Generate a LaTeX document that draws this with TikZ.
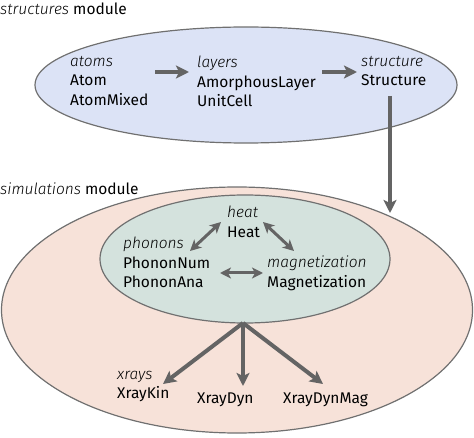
\documentclass[tikz,border=0pt]{standalone}
\usepackage{fontspec}
\setmainfont{Fira Sans}
\newfontfamily\pkgfont{Fira Sans Light Italic}
\newcommand{\pkg}[1]{{\pkgfont #1}}
\usepackage{xcolor}
\usetikzlibrary{arrows.meta, shapes, positioning, calc}

\definecolor{structblue}{HTML}{DCE3F6}
\definecolor{simpeach}{HTML}{F7E2D9}
\definecolor{coregreen}{HTML}{D4E2DD}
\definecolor{rimgray}{HTML}{707070}
\definecolor{arrowgray}{HTML}{646464}

\begin{document}
\begin{tikzpicture}[
        x=1pt, y=-1pt,
        module/.style={ellipse, draw=rimgray, line width=1.2pt, inner sep=0pt},
        group/.style={anchor=north west, inner sep=0pt, align=left, font={\fontsize{15.5}{19.5}\selectfont}},
        title/.style={anchor=base west, inner sep=0pt, font={\fontsize{15.5}{19.5}\selectfont}},
        flow/.style={arrowgray, line width=4pt, -{Stealth[length=13pt, width=13pt, inset=3pt]}},
        link/.style={arrowgray, line width=3pt, {Stealth[length=11pt, width=11pt, inset=3pt]}-{Stealth[length=11pt, width=11pt, inset=3pt]}}
    ]
        \useasboundingbox (0,0) rectangle (474,438);

        % Modules
        \node (structmod) [module, fill=structblue, minimum width=422pt, minimum height=116pt] at (246,85) {};
        \node (simmod) [module, fill=simpeach, minimum width=471pt, minimum height=246pt] at (237,310) {};
        \node (coremod) [module, fill=coregreen, minimum width=290pt, minimum height=128pt] at (245,259) {};

        \node (structtitle) [title] at (0,15) {\pkg{structures} module};
        \node (simtitle) [title] at (0,195) {\pkg{simulations} module};

        % structures module
        \node (atoms) [group] at (70,56) {\pkg{atoms}\\Atom\\AtomMixed};
        \node (layers) [group] at (197,56) {\pkg{layers}\\AmorphousLayer\\UnitCell};
        \node (structure) [group] at (361,56) {\pkg{structure}\\Structure};

        \draw [flow] (155,72) -- (189,72);
        \draw [flow] (322,72) -- (357,72);

        % structure into simulations
        \coordinate (structout) at (390,96);
        \coordinate (simin) at (390,213);
        \draw [flow] (structout) -- (simin);

        % core simulations
        \node (heat) [group] at (227,206) {\pkg{heat}\\Heat};
        \node (phonons) [group] at (123,237) {\pkg{phonons}\\PhononNum\\PhononAna};
        \node (magnet) [group] at (267,256) {\pkg{magnetization}\\Magnetization};

        \coordinate (heatL) at (221,222);
        \coordinate (heatR) at (263,222);
        \draw [link] (heatL) -- (190,251);
        \draw [link] (heatR) -- (294,251);
        \draw [link] (220,273) -- (263,273);

        % xrays
        \node (xrays) [group] at (117,371) {\pkg{xrays}\\XrayKin};
        \node (xraydyn) [group, anchor=base west] at (197,403) {XrayDyn};
        \node (xraymag) [group, anchor=base west] at (283,403) {XrayDynMag};

        \coordinate (fork) at (243,323);
        \draw [flow] (fork) -- (163,384);
        \draw [flow] (fork) -- (243,386);
        \draw [flow] (fork) -- (323,384);
\end{tikzpicture}
\end{document}
